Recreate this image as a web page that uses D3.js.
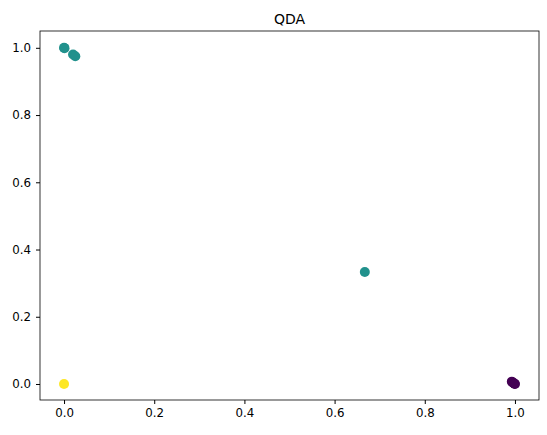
<!DOCTYPE html>
<html><head><meta charset="utf-8">
<script src="https://cdn.jsdelivr.net/npm/d3@7"></script>
<style>body{margin:0;background:#fff}text{font-family:"DejaVu Sans",sans-serif}</style>
</head><body><svg id="c" width="547" height="435"></svg>
<script>
const xs = [0.0, 0.001, 0.02, 0.025, 0.667, 0.0, 0.993, 0.996, 0.999, 1.0];
const ys = [1.0, 0.999, 0.98, 0.975, 0.333, 0.0, 0.007, 0.004, 0.001, 0.0];
const cls = [1, 1, 1, 1, 1, 2, 0, 0, 0, 0];
const colors = ["#440154", "#21918c", "#fde725"];
const xTicks = [0, 0.2, 0.4, 0.6, 0.8, 1.0];
const yTicks = [0, 0.2, 0.4, 0.6, 0.8, 1.0];
const L=40,R=539,T=31,B=400;
const svg=d3.select("#c");
const x=d3.scaleLinear().domain([-0.0533,1.0533]).range([L,R]);
const y=d3.scaleLinear().domain([-0.0476,1.05]).range([B,T]);
svg.selectAll("circle").data(xs).join("circle")
 .attr("cx",(d,i)=>x(d)).attr("cy",(d,i)=>y(ys[i])).attr("r",5)
 .attr("fill",(d,i)=>colors[cls[i]]);
const ax=svg.append("g").attr("transform",`translate(0,${B})`)
 .call(d3.axisBottom(x).tickValues(xTicks).tickFormat(d3.format(".1f")).tickSizeOuter(0).tickSize(4).tickPadding(5));
const ay=svg.append("g").attr("transform",`translate(${L},0)`)
 .call(d3.axisLeft(y).tickValues(yTicks).tickFormat(d3.format(".1f")).tickSizeOuter(0).tickSize(4).tickPadding(5));
[ax,ay].forEach(g=>{g.select(".domain").remove();g.selectAll("text").attr("font-size",11.8).attr("fill","#000");g.selectAll("line").attr("stroke","#000")});
svg.append("rect").attr("x",L).attr("y",T).attr("width",R-L).attr("height",B-T).attr("fill","none").attr("stroke","#000").attr("stroke-width",0.8);
svg.append("text").attr("x",(L+R)/2).attr("y",T-7).attr("text-anchor","middle").attr("font-size",14).text("QDA");
</script></body></html>
